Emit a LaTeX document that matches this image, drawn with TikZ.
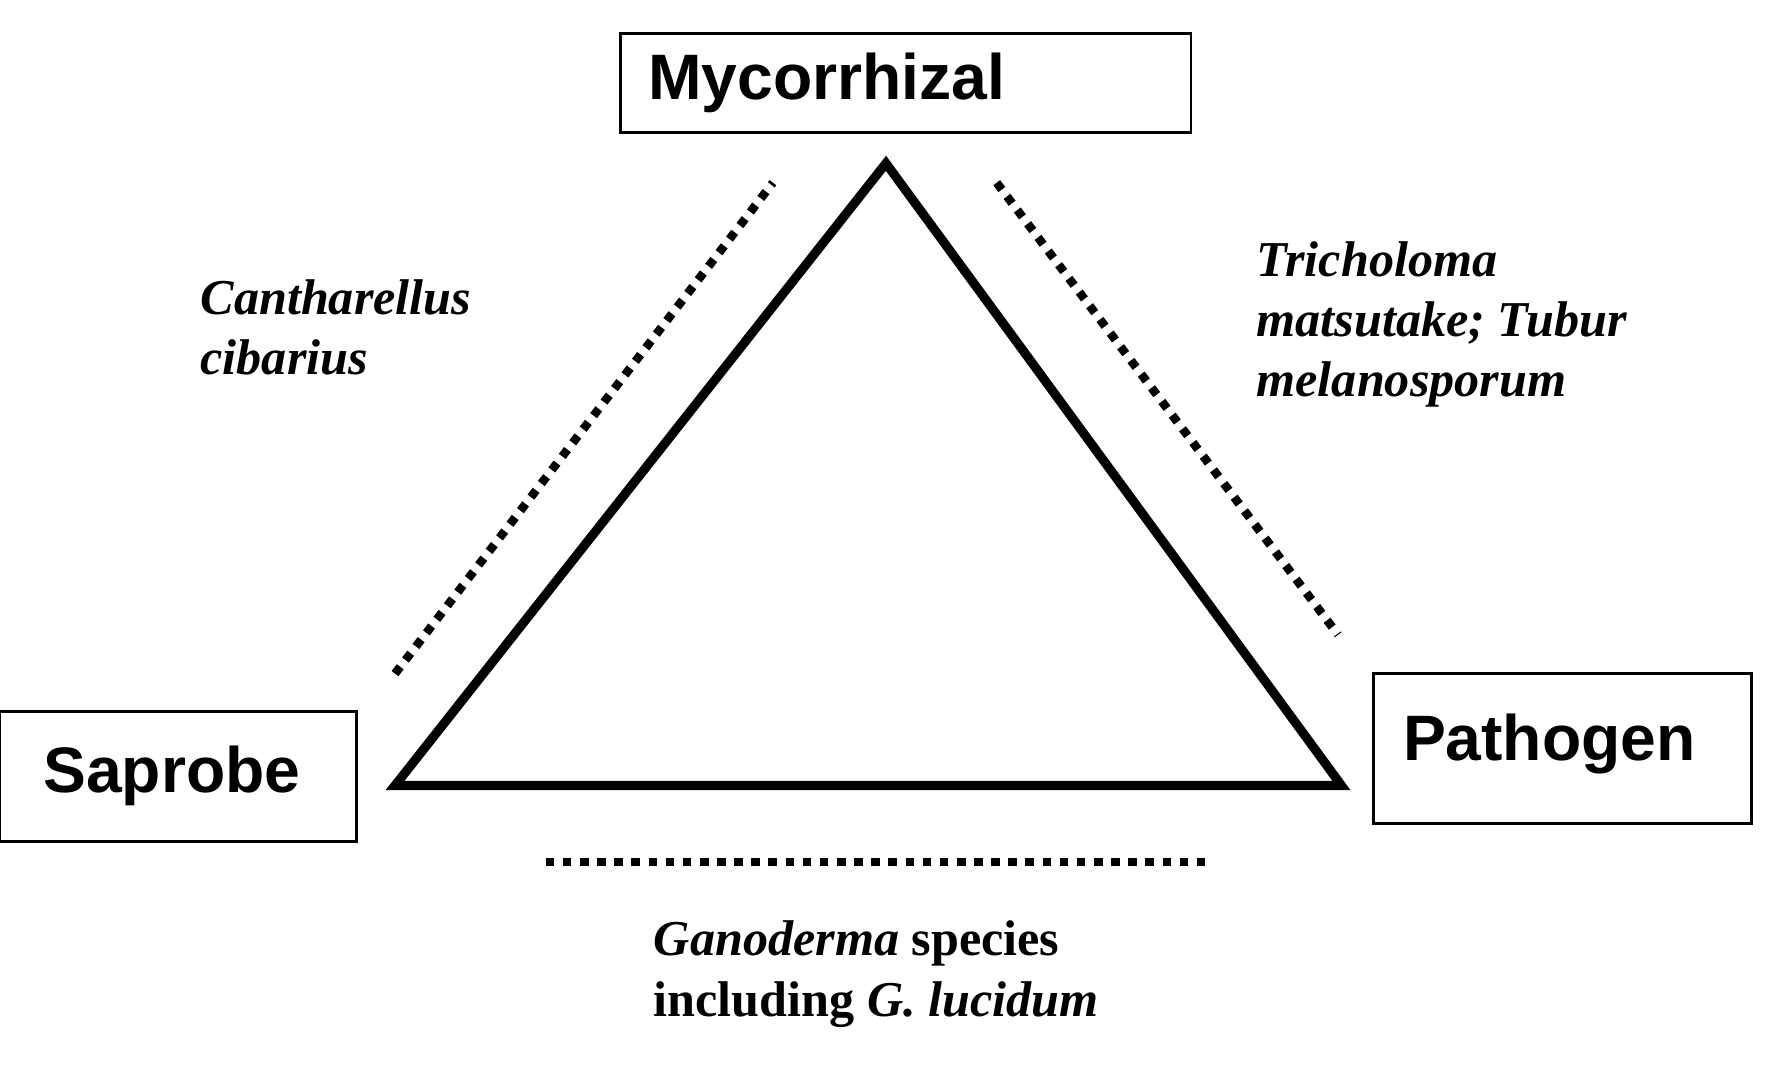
\documentclass[tikz,border=0pt]{standalone}
\usepackage{fontspec}
\setmainfont{Liberation Serif}
\newfontfamily\boxfont{Liberation Sans}
\begin{document}
\begin{tikzpicture}[x=0.01cm,y=-0.01cm,
boxnode/.style={draw=black, line width=0.25mm, inner sep=0pt, font=\boxfont\bfseries\fontsize{16}{19}\selectfont},
namenode/.style={anchor=north west, align=left, inner sep=0pt, font=\bfseries\itshape\fontsize{12.5}{15}\selectfont},
sideline/.style={line width=0.8mm, line join=miter},
dotline/.style={line width=0.75mm, dash pattern=on 0.75mm off 0.75mm},
]
\useasboundingbox (0,0) rectangle (1560,947);
%Boxes
\node[boxnode, minimum width=4.99cm, minimum height=0.87cm] (myc) at (793.5,72.5) {\makebox[4.51cm][l]{Mycorrhizal}};
\node[boxnode, minimum width=3.12cm, minimum height=1.14cm] (sap) at (156,680) {\makebox[2.36cm][l]{\raisebox{0.1cm}{Saprobe}}};
\node[boxnode, minimum width=3.31cm, minimum height=1.31cm] (pat) at (1368.5,655.5) {\makebox[2.79cm][l]{\raisebox{0.2cm}{Pathogen}}};

%Triangle
\coordinate (top) at (776,143);
\coordinate (left) at (346,688);
\coordinate (right) at (1175,688);
\draw[sideline] (top) -- (right) -- (left) -- cycle;

%Dotted lines
\coordinate (la) at (346,590);
\coordinate (lb) at (677,160);
\coordinate (ra) at (873,160);
\coordinate (rb) at (1172,556);
\coordinate (ba) at (478,755);
\coordinate (bb) at (1062,755);
\draw[dotline] (la) -- (lb);
\draw[dotline] (ra) -- (rb);
\draw[dotline] (ba) -- (bb);

%Labels
\node[namenode] (cant) at (175,244) {Cantharellus\\cibarius};
\node[namenode] (tric) at (1100,211) {Tricholoma\\matsutake; Tubur\\melanosporum};
\node[namenode] (gano) at (572,806) {Ganoderma \textup{species}\\\textup{including} G. lucidum};
\end{tikzpicture}
\end{document}
